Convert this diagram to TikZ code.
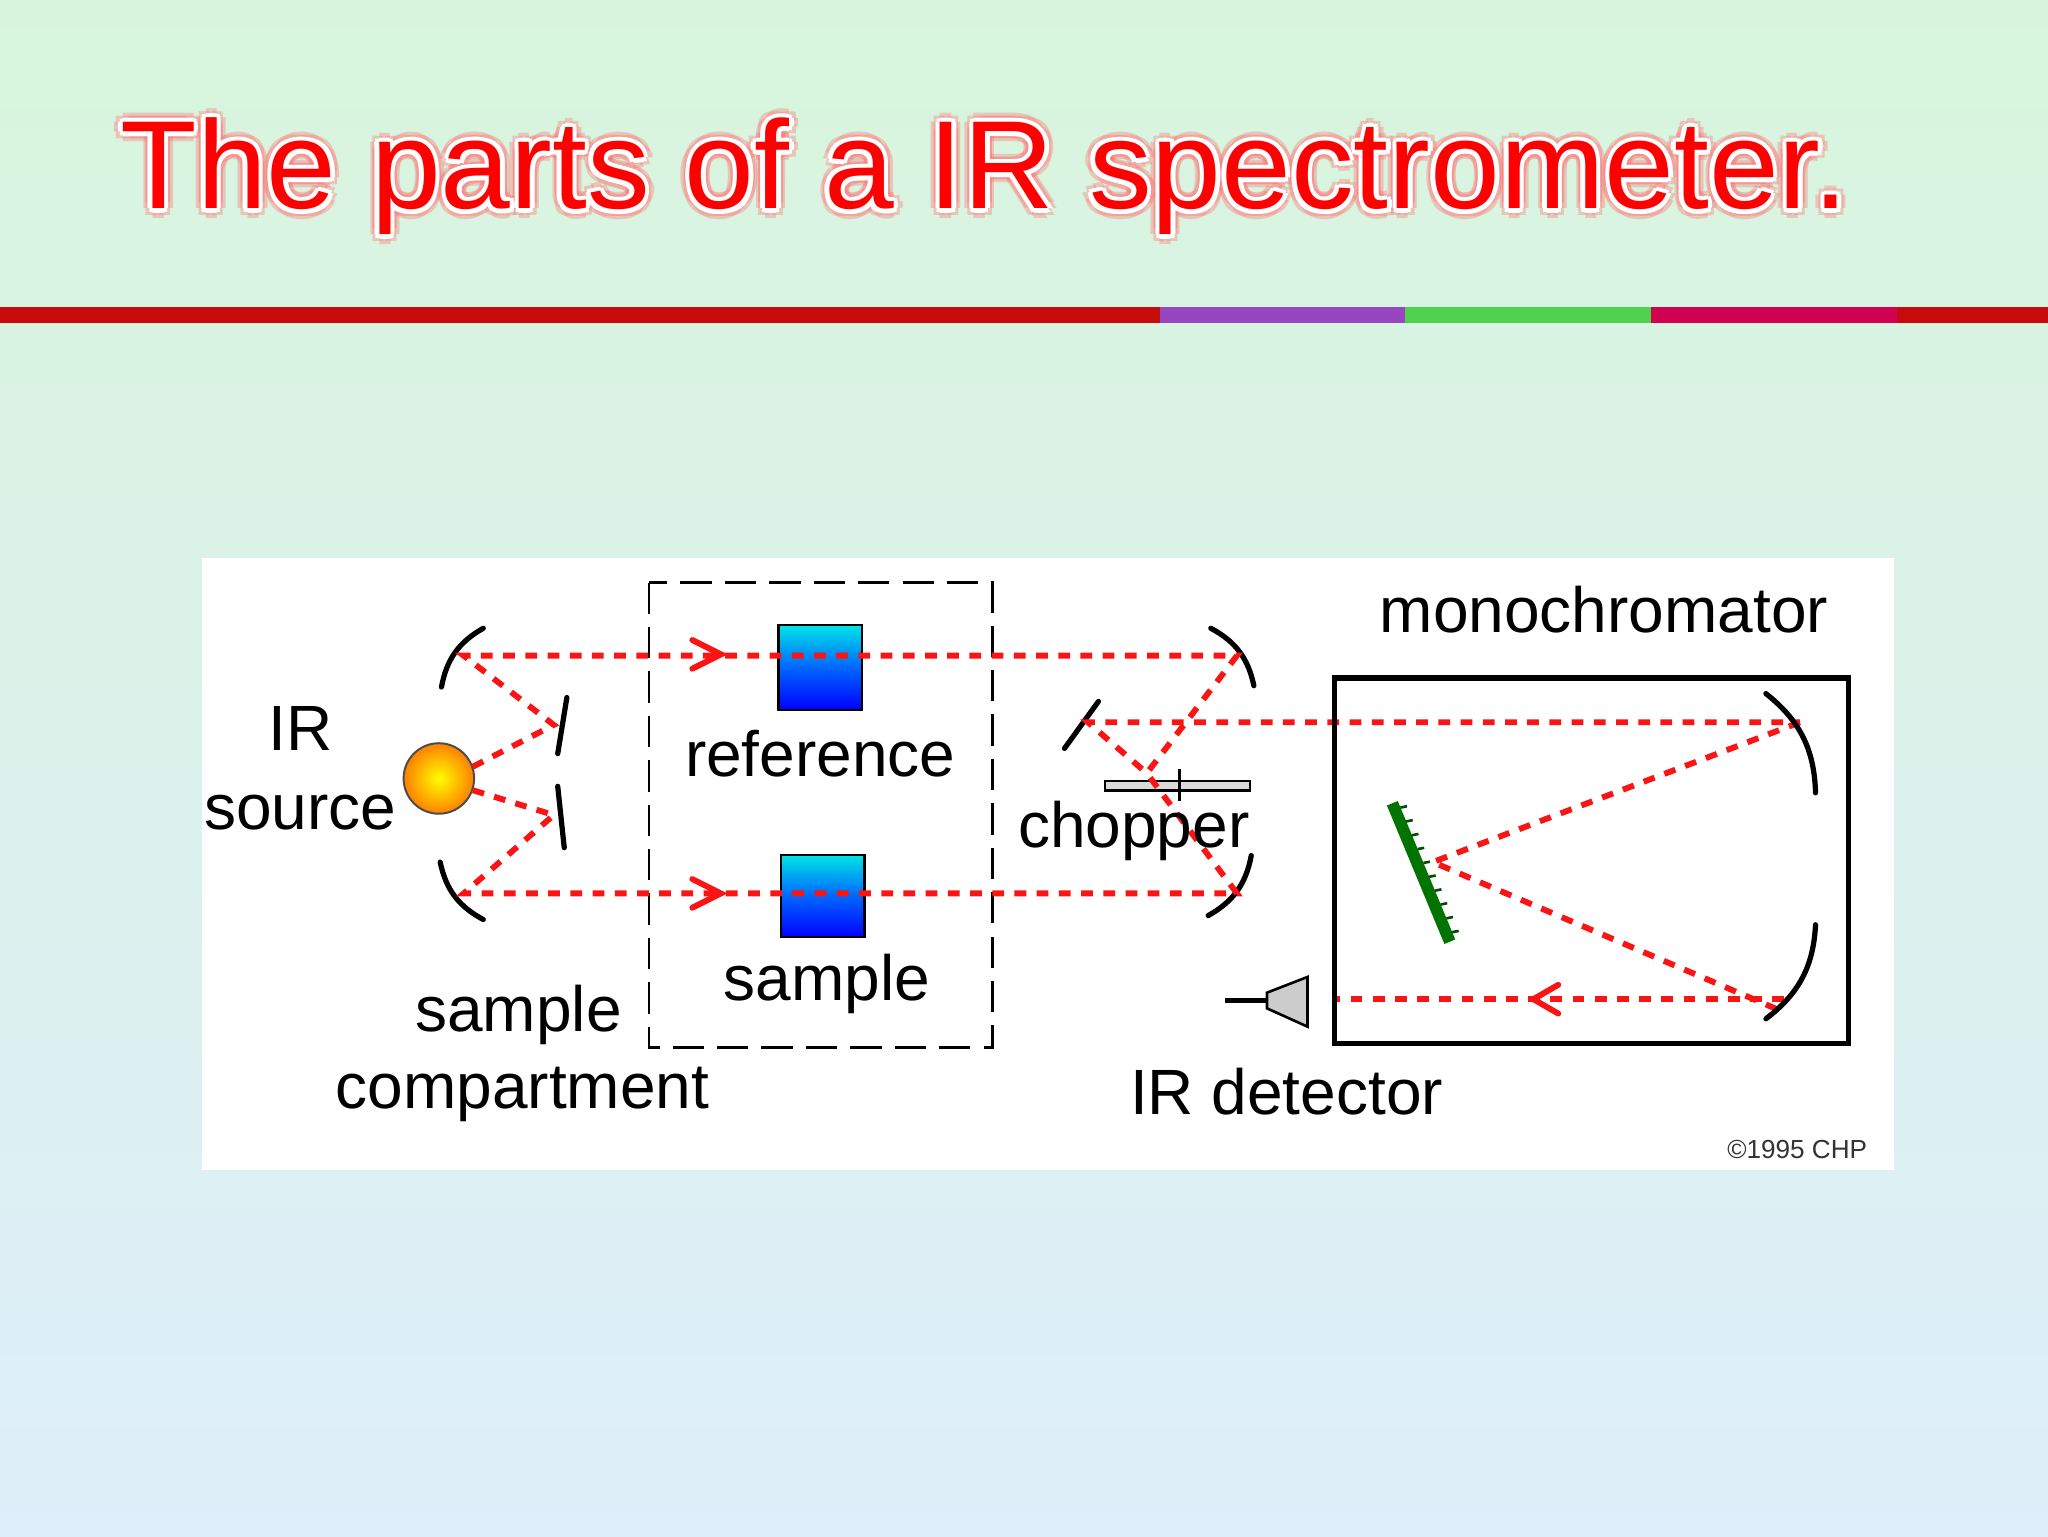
\documentclass[tikz,border=0pt]{standalone}
\usepackage{fontspec}
\setmainfont{Liberation Sans}
\usetikzlibrary{arrows.meta,calc}
\definecolor{bgtop}{RGB}{216,245,220}
\definecolor{bgbot}{RGB}{222,238,250}
\definecolor{rayc}{RGB}{250,20,20}
\definecolor{sred}{RGB}{200,10,10}
\definecolor{spur}{RGB}{150,70,190}
\definecolor{sgrn}{RGB}{80,210,80}
\definecolor{scrm}{RGB}{210,0,80}
\begin{document}
\begin{tikzpicture}[x=1pt,y=-1pt,
  beam/.style={draw=rayc,line width=4.5pt,dash pattern=on 9pt off 8pt},
  mir/.style={line width=4pt,line cap=round},
  lbl/.style={font=\fontsize{49}{49}\selectfont,inner sep=0pt},
  cell/.style={draw=black,line width=2pt,top color=cyan!80!teal,bottom color=blue,middle color=blue!60!cyan},
  arr/.style={draw=rayc,line width=4.5pt,line cap=round,line join=miter}]
\useasboundingbox (0,0) rectangle (1568,1176);
\shade[top color=bgtop,bottom color=bgbot] (0,0) rectangle (1568,1176);
% title
\foreach \dx/\dy in {-7/0,7/0,0/-7,0/7,-5/-5,5/5,-5/5,5/-5}
  \node[anchor=base west,inner sep=0pt,text=red!55,opacity=0.35,font=\fontsize{96}{96}\selectfont] at (92+\dx,160+\dy) {The parts of a IR spectrometer.};
\foreach \dx/\dy in {-3.5/0,3.5/0,0/-3.5,0/3.5,-2.5/-2.5,2.5/2.5,-2.5/2.5,2.5/-2.5}
  \node[anchor=base west,inner sep=0pt,text=white,font=\fontsize{96}{96}\selectfont] at (92+\dx,160+\dy) {The parts of a IR spectrometer.};
\node (title)[anchor=base west,inner sep=0pt,text=red,font=\fontsize{96}{96}\selectfont] at (92,160) {The parts of a IR spectrometer.};
% stripe
\fill[sred] (0,235) rectangle (888,247);
\fill[spur] (888,235) rectangle (1076,247);
\fill[sgrn] (1076,235) rectangle (1264,247);
\fill[scrm] (1264,235) rectangle (1452,247);
\fill[sred] (1452,235) rectangle (1568,247);
% panel
\fill[white] (155,427) rectangle (1450,896);
\draw[line width=2pt,dash pattern=on 24pt off 10pt] (497,446) rectangle (760,802);
% cells
\node (ref)[cell,minimum width=64pt,minimum height=65pt,inner sep=0pt] at (628,511) {};
\node (smp)[cell,minimum width=64pt,minimum height=63pt,inner sep=0pt] at (630,686) {};
% source
\node (src)[circle,draw=black!70,line width=1.5pt,inner color=yellow,outer color=orange,minimum size=54pt,inner sep=0pt] at (336,596) {};
% mirrors left
\draw[mir] (338,526) to[bend left=25] (370,481);
\draw[mir] (337,660) to[bend right=25] (370,704);
\draw[mir] (427,577) -- (434,534);
\draw[mir] (427,602) -- (432,649);
% mirrors right
\draw[mir] (927,481) to[bend left=25] (960,525);
\draw[mir] (925,701) to[bend right=25] (958,655);
\draw[mir] (815,573) -- (841,537);
% chopper
\draw[line width=2pt,fill=black!15] (846,598) rectangle (957,605);
\draw[line width=2pt] (903,589) -- (903,613);
% rays
\coordinate (tl) at (355,502); \coordinate (bl) at (355,684);
\coordinate (tr) at (947,502); \coordinate (br) at (947,684);
\coordinate (m1) at (424,555); \coordinate (m2) at (424,624);
\coordinate (ch) at (878,592); \coordinate (fm) at (833,553);
\draw[beam] (362,587) -- (m1) -- (tl) -- (tr) -- (ch) -- (fm) -- (1378,553);
\draw[beam] (362,605) -- (m2) -- (bl) -- (br) -- (ch);
\coordinate (gr) at (1097,660);
\draw[beam] (1378,553) -- (gr) -- (1366,775);
\draw[beam] (1366,765) -- (1020,765);
\draw[arr] (530,490) -- (552,501) -- (530,512);
\draw[arr] (530,673) -- (552,684) -- (530,695);
\draw[arr] (1193,754) -- (1174,765) -- (1193,776);
% monochromator
\draw[line width=4pt] (1022,519) rectangle (1415,799);
\draw[mir] (1352,531) to[bend left=25] (1390,607);
\draw[mir] (1390,708) to[bend left=25] (1352,780);
\draw[line width=9pt,draw=green!45!black] (1066,615) -- (1110,721);
\foreach \t in {0.05,0.15,...,1}
  \draw[line width=2pt,green!30!black] ($(1066,615)!\t!(1110,721)+(4,-2)$) -- ++(5,-1);
% detector
\draw[line width=4pt] (938,766) -- (970,766);
\draw[line width=2pt,fill=black!20] (970,760) -- (1001,748) -- (1001,786) -- (970,772) -- cycle;
% labels
\node (lir)[lbl] at (230,558) {IR};
\node (lsrc)[lbl] at (230,622) {source};
\node (lref)[lbl] at (628,577) {reference};
\node (lsmp)[lbl] at (633,753) {sample};
\node (lsc1)[lbl] at (397,777) {sample};
\node (lsc2)[lbl] at (400,838) {compartment};
\node (lch)[lbl] at (868,636) {chopper};
\node (lmono)[lbl] at (1228,467) {monochromator};
\node (ldet)[lbl] at (985,836) {IR detector};
\node (copy)[inner sep=0pt,font=\fontsize{20}{20}\selectfont,text=black!80] at (1376,880) {©1995 CHP};
\end{tikzpicture}
\end{document}
